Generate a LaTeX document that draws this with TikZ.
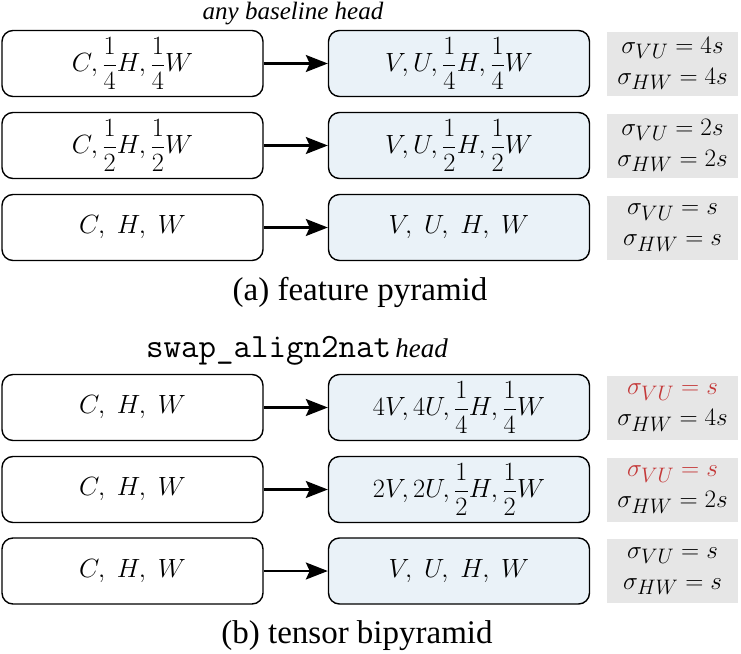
\documentclass[tikz,border=0pt]{standalone}
\usepackage{graphicx}
\usepackage{fontspec}
\setmainfont{Liberation Serif}
\setmonofont{Latin Modern Mono}
\usetikzlibrary{arrows.meta}
\definecolor{boxblue}{RGB}{234,242,248}
\definecolor{boxgray}{RGB}{230,230,230}
\definecolor{sigred}{RGB}{196,56,56}
\newcommand{\bm}[1]{\scalebox{1.06}{$#1$}}
\newcommand{\sm}[1]{\scalebox{1.01}{$#1$}}
\tikzset{
  inbox/.style={draw=black, line width=1.4pt, rounded corners=11pt, fill=white,
    minimum width=261pt, minimum height=66pt, inner sep=0pt,
    font=\fontsize{24.88}{30}\selectfont},
  outbox/.style={inbox, fill=boxblue},
  sigbox/.style={fill=boxgray, minimum width=131pt, minimum height=64pt, inner sep=0pt,
    align=center, font=\fontsize{24.88}{31}\selectfont},
  flow/.style={line width=2.2pt, -{Stealth[length=22pt,width=17pt,inset=4pt]}},
  title/.style={anchor=base, inner sep=0pt, font=\fontsize{25}{30}\selectfont},
  caption/.style={anchor=base, inner sep=0pt, font=\fontsize{33}{40}\selectfont}
}
\begin{document}
\begin{tikzpicture}[x=1pt,y=-1pt]
\useasboundingbox (0,0) rectangle (741,653);
% titles
\node[title] (t1) at (293,19) {\itshape any baseline head};
\node[title] (t2) at (297,357) {{\fontsize{34}{40}\selectfont\ttfamily swap\_align2nat}\,{\fontsize{27}{32}\selectfont\itshape head}};
% part (a)
\node[inbox] (a1) at (132.5,63.5) {\bm{C, \displaystyle\frac{1}{4}H, \frac{1}{4}W}};
\node[outbox] (b1) at (459,63.5) {\bm{V, U, \displaystyle\frac{1}{4}H, \frac{1}{4}W}};
\node[sigbox] (s1) at (672.5,63.5) {\sm{\sigma_{VU}=4s}\\\sm{\sigma_{HW}=4s}};
\node[inbox] (a2) at (132.5,145.5) {\bm{C, \displaystyle\frac{1}{2}H, \frac{1}{2}W}};
\node[outbox] (b2) at (459,145.5) {\bm{V, U, \displaystyle\frac{1}{2}H, \frac{1}{2}W}};
\node[sigbox] (s2) at (672.5,145.5) {\sm{\sigma_{VU}=2s}\\\sm{\sigma_{HW}=2s}};
\node[inbox] (a3) at (132.5,227.5) {\bm{C,\; H,\; W}};
\node[outbox] (b3) at (459,227.5) {\bm{V,\; U,\; H,\; W}};
\node[sigbox] (s3) at (672.5,227.5) {\sm{\sigma_{VU}=s}\\\sm{\sigma_{HW}=s}};
\node[caption] (ca) at (360,300) {(a) feature pyramid};
% part (b)
\node[inbox] (a4) at (132.5,407.5) {\bm{C,\; H,\; W}};
\node[outbox] (b4) at (459,407.5) {\bm{4V, 4U, \displaystyle\frac{1}{4}H, \frac{1}{4}W}};
\node[sigbox] (s4) at (672.5,407.5) {\textcolor{sigred}{\sm{\sigma_{VU}=s}}\\\sm{\sigma_{HW}=4s}};
\node[inbox] (a5) at (132.5,489.5) {\bm{C,\; H,\; W}};
\node[outbox] (b5) at (459,489.5) {\bm{2V, 2U, \displaystyle\frac{1}{2}H, \frac{1}{2}W}};
\node[sigbox] (s5) at (672.5,489.5) {\textcolor{sigred}{\sm{\sigma_{VU}=s}}\\\sm{\sigma_{HW}=2s}};
\node[inbox] (a6) at (132.5,571) {\bm{C,\; H,\; W}};
\node[outbox] (b6) at (459,571) {\bm{V,\; U,\; H,\; W}};
\node[sigbox] (s6) at (672.5,571) {\sm{\sigma_{VU}=s}\\\sm{\sigma_{HW}=s}};
\node[caption] (cb) at (357,643) {(b) tensor bipyramid};
% arrows
\foreach \i in {1,...,6} \draw[flow] (a\i) -- (b\i);
\end{tikzpicture}
\end{document}
